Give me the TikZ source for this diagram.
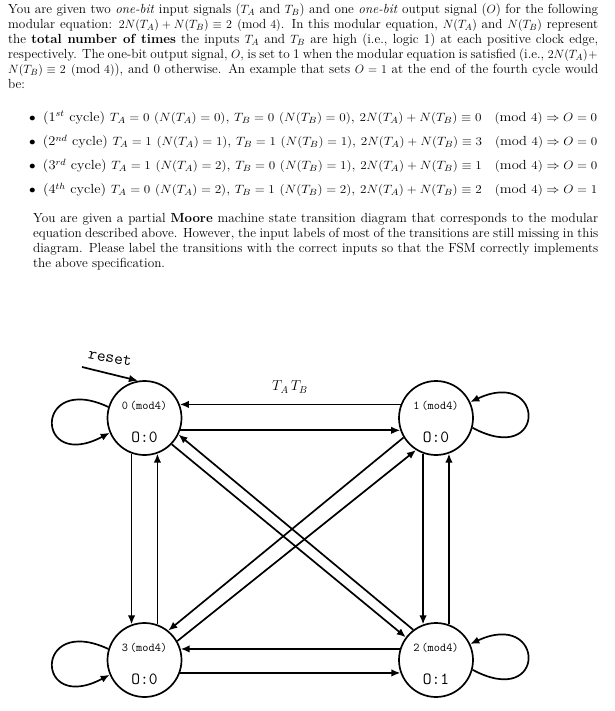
\documentclass[tikz,border=0pt]{standalone}
\usepackage{amsmath,amssymb}
\usepackage{graphicx}
\usepackage{fontspec}
\usetikzlibrary{arrows.meta}
\newcommand{\mymod}[1]{\mkern18mu(\mathrm{mod}\ #1)}
\newcommand{\bline}[1]{\resizebox{568pt}{\height}{#1}}
\begin{document}
\begin{tikzpicture}[x=1pt,y=1pt,
  st/.style={circle,draw,line width=1.7pt,minimum size=74pt,inner sep=0pt},
  tr/.style={line width=1.7pt,-{Latex[length=9pt,width=7.5pt]}},
  para/.style={anchor=north west,text width=590pt,align=justify,inner sep=0pt,font=\fontsize{13.2}{15}\selectfont},
  bul/.style={anchor=west,inner sep=0pt,font=\fontsize{13.2}{15}\selectfont}]
\useasboundingbox (0,0) rectangle (614,-711);
\node[para] (p1) at (8,-3) {You are given two \emph{one-bit} input signals ($T_A$ and $T_B$) and one \emph{one-bit} output signal ($O$) for the following modular equation: $2N(T_A)+N(T_B)\equiv 2 \pmod 4$. In this modular equation, $N(T_A)$ and $N(T_B)$ represent the \textbf{total number of times} the inputs $T_A$ and $T_B$ are high (i.e., logic 1) at each positive clock edge, respectively. The one-bit output signal, $O$, is set to 1 when the modular equation is satisfied (i.e., $2N(T_A)+{}$\linebreak$N(T_B)\equiv 2 \pmod 4$), and 0 otherwise. An example that sets $O=1$ at the end of the fourth cycle would be:};
\node[bul] (b1) at (29,-118) {\bline{$\bullet$\enspace (1$^{st}$ cycle) $T_A=0$ $(N(T_A)=0)$, $T_B=0$ $(N(T_B)=0)$, $2N(T_A)+N(T_B)\equiv 0 \mymod 4 \Rightarrow O=0$}};
\node[bul] (b2) at (29,-142) {\bline{$\bullet$\enspace (2$^{nd}$ cycle) $T_A=1$ $(N(T_A)=1)$, $T_B=1$ $(N(T_B)=1)$, $2N(T_A)+N(T_B)\equiv 3 \mymod 4 \Rightarrow O=0$}};
\node[bul] (b3) at (29,-166) {\bline{$\bullet$\enspace (3$^{rd}$ cycle) $T_A=1$ $(N(T_A)=2)$, $T_B=0$ $(N(T_B)=1)$, $2N(T_A)+N(T_B)\equiv 1 \mymod 4 \Rightarrow O=0$}};
\node[bul] (b4) at (29,-190) {\bline{$\bullet$\enspace (4$^{th}$ cycle) $T_A=0$ $(N(T_A)=2)$, $T_B=1$ $(N(T_B)=2)$, $2N(T_A)+N(T_B)\equiv 2 \mymod 4 \Rightarrow O=1$}};
\node[para,text width=565pt] (p2) at (33,-213) {You are given a partial \textbf{Moore} machine state transition diagram that corresponds to the modular equation described above. However, the input labels of most of the transitions are still missing in this diagram. Please label the transitions with the correct inputs so that the FSM correctly implements the above specification.};

\node[st] (s0) at (144.5,-418) {};
\node[st] (s1) at (436,-418) {};
\node[st] (s2) at (436,-660) {};
\node[st] (s3) at (144.5,-660) {};
\foreach \s/\n/\o in {s0/0/0,s1/1/0,s2/2/1,s3/3/0}{
  \node[font=\ttfamily\fontsize{12}{12}\selectfont,inner sep=0pt] at ([yshift=12pt]\s.center) {\n\,(mod4)};
  \node[font=\ttfamily\fontsize{17}{17}\selectfont,inner sep=0pt] at ([yshift=-19pt]\s.center) {O:\o};
}
\coordinate (r) at (82,-367);
\draw[tr] (r) -- (s0.100);
\node[font=\ttfamily\fontsize{17}{17}\selectfont,rotate=-10] (rl) at (110,-358) {reset};
\node[font=\fontsize{14}{14}\selectfont] (lab) at (290,-387) {$T_A\,T_B$};

\draw[tr] (s1.159) -- (s0.21);
\draw[tr] (s0.-19) -- (s1.199);
\draw[tr] (s0.250) -- (s3.110);
\draw[tr] (s3.70) -- (s0.290);
\draw[tr] (s1.250) -- (s2.110);
\draw[tr] (s2.70) -- (s1.290);
\draw[tr] (s2.163) -- (s3.17);
\draw[tr] (s3.-20) -- (s2.200);
\draw[tr] (s0.-44) -- (s2.143);
\draw[tr] (s2.127) -- (s0.-26);
\draw[tr] (s1.211) -- (s3.51);
\draw[tr] (s3.30) -- (s1.238);
\draw[tr] (s0.163) .. controls +(-75,35) and +(-75,-40) .. (s0.203);
\draw[tr] (s3.163) .. controls +(-75,35) and +(-75,-40) .. (s3.203);
\draw[tr] (s1.-15) .. controls +(75,-40) and +(75,35) .. (s1.25);
\draw[tr] (s2.-15) .. controls +(75,-40) and +(75,35) .. (s2.25);
\end{tikzpicture}
\end{document}
